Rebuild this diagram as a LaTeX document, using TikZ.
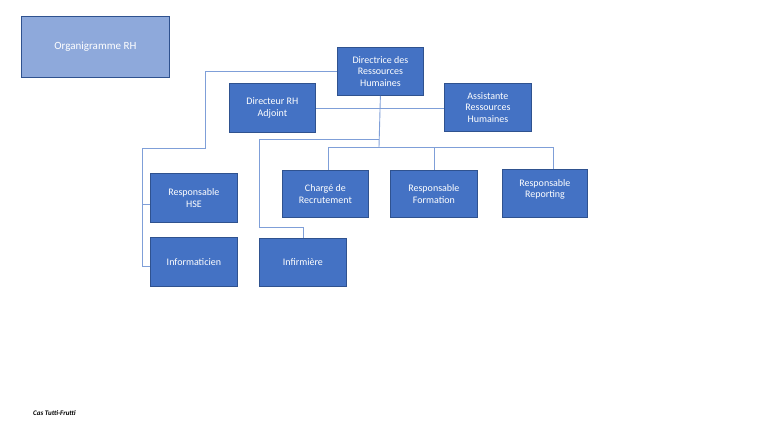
\documentclass[tikz,border=0pt]{standalone}
\usepackage{fontspec}
\setmainfont{Carlito}
\begin{document}
\begin{tikzpicture}[x=1pt,y=-1pt,
  box/.style={draw=bordc,fill=boxc,line width=0.8pt,text=white,font=\fontsize{10}{11.5}\selectfont,align=center,inner sep=0pt,anchor=north west},
  ln/.style={draw=linec,line width=0.9pt}]
\definecolor{boxc}{HTML}{4472C4}
\definecolor{bordc}{HTML}{2F528F}
\definecolor{linec}{HTML}{7F9FD8}
\definecolor{lightc}{HTML}{8EA9DB}
\useasboundingbox (0,0) rectangle (768,433);
\node[box,fill=lightc,minimum width=148pt,minimum height=61pt,font=\fontsize{11}{13}\selectfont] (title) at (21,16) {Organigramme RH};
\node[box,minimum width=86pt,minimum height=48pt] (dir) at (337,47) {Directrice des\\Ressources\\Humaines};
\node[box,minimum width=86pt,minimum height=49pt] (adj) at (229,83) {Directeur RH\\Adjoint};
\node[box,minimum width=87pt,minimum height=48pt] (ass) at (444,83) {Assistante\\Ressources\\Humaines};
\node[box,minimum width=86pt,minimum height=47pt] (rec) at (282,170) {Chargé de\\Recrutement};
\node[box,minimum width=87pt,minimum height=47pt] (form) at (390,170) {Responsable\\Formation};
\node[box,minimum width=85pt,minimum height=48pt] (rep) at (502,169) {Responsable\\Reporting\\[-2pt]};
\node[box,minimum width=87pt,minimum height=49pt] (hse) at (150,173) {Responsable\\HSE};
\node[box,minimum width=87pt,minimum height=49pt] (info) at (150,237) {Informaticien};
\node[box,minimum width=87pt,minimum height=48pt] (inf) at (259,238) {Infirmière};
\coordinate (bus) at (379,147);
\begin{scope}[on background layer/.try]
\end{scope}
\draw[ln] (dir.south) -- (bus);
\draw[ln] (adj.east |- 0,108) -- (ass.west |- 0,108);
\draw[ln] (dir.west |- 0,71) -- (205,71) -- (205,148) -- (142,148) -- (142,266) -- (info.west |- 0,266);
\draw[ln] (142,204) -- (hse.west |- 0,204);
\draw[ln] (379,139) -- (259,139) -- (259,227) -- (303,227) -- (inf.north -| 303,0);
\draw[ln] (rec.north -| 328,0) -- (328,147) -- (553,147) -- (rep.north -| 553,0);
\draw[ln] (434,147) -- (form.north -| 434,0);
\node[anchor=west,font=\fontsize{7}{8}\selectfont\bfseries\itshape,inner sep=0pt] (cas) at (33,413) {Cas Tutti-Frutti};
\end{tikzpicture}
\end{document}
